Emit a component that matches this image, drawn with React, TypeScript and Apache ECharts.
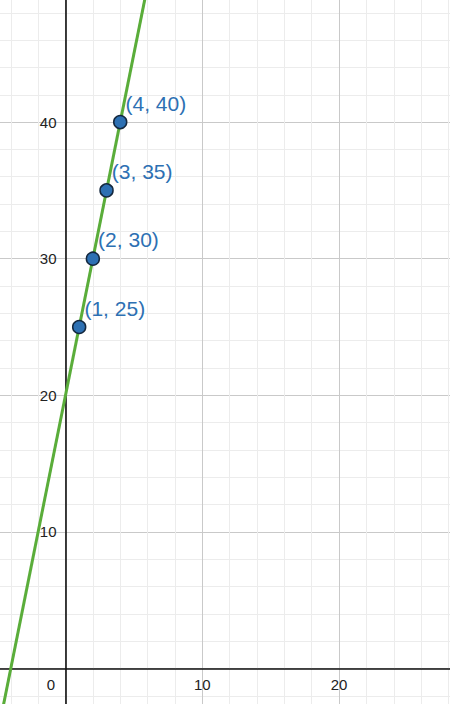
import { useEffect, useRef } from "react";
import * as echarts from "echarts";

// points marked on the graph
const pointX = [1, 2, 3, 4];
const pointY = [25, 30, 35, 40];

// two far ends of the line y = 5x + 20
const lineX = [-6, 8];
const lineY = [-10, 60];

// visible tick labels
const xTickLabels = [0, 10, 20];
const yTickLabels = [10, 20, 30, 40];

const GREEN = "#5aad3a";
const BLUE = "#2d70b3";
const FONT = "'Liberation Sans', Arial, sans-serif";

export default function App() {
  const chartRef = useRef<HTMLDivElement>(null);

  useEffect(() => {
    if (!chartRef.current) return;
    const chart = echarts.init(chartRef.current, null, { renderer: "svg" });

    const gridLines = {
      splitLine: { show: true, lineStyle: { color: "#c9c9c9", width: 1 } },
      minorTick: { show: false, splitNumber: 5 },
      minorSplitLine: { show: true, lineStyle: { color: "#ececec", width: 1 } },
    };

    const option: any = {
      animation: false,
      backgroundColor: "#ffffff",
      grid: [
        // full plane: grid lines, axis lines, marks (extends past the page)
        {
          left: -71.3,
          right: -25.9,
          top: -14.5,
          bottom: -101.1,
          containLabel: false,
          outerBoundsMode: "none",
        },
        // first quadrant only: carries the tick labels along the axes
        {
          left: 65.5,
          right: -25.9,
          top: -14.5,
          bottom: 35.5,
          containLabel: false,
          outerBoundsMode: "none",
        },
      ],
      xAxis: [
        {
          type: "value",
          gridIndex: 0,
          min: -10,
          max: 30,
          interval: 10,
          axisLine: { onZero: true, lineStyle: { color: "#111", width: 1.6 } },
          axisTick: { show: false },
          axisLabel: { show: false },
          ...gridLines,
        },
        {
          type: "value",
          gridIndex: 1,
          min: 0,
          max: 30,
          interval: 10,
          axisLine: { show: false },
          axisTick: { show: false },
          splitLine: { show: false },
          axisLabel: {
            margin: 8,
            color: "#222",
            fontSize: 15,
            fontFamily: FONT,
            formatter: (v: number) => {
              if (!xTickLabels.includes(v)) return "";
              return v === 0 ? "{z|0}" : String(v);
            },
            rich: {
              z: { padding: [0, 29, 0, 0], fontSize: 15, color: "#222", fontFamily: FONT },
            },
          },
        },
      ],
      yAxis: [
        {
          type: "value",
          gridIndex: 0,
          min: -10,
          max: 50,
          interval: 10,
          axisLine: { onZero: true, lineStyle: { color: "#111", width: 1.6 } },
          axisTick: { show: false },
          axisLabel: { show: false },
          ...gridLines,
        },
        {
          type: "value",
          gridIndex: 1,
          min: 0,
          max: 50,
          interval: 10,
          axisLine: { show: false },
          axisTick: { show: false },
          splitLine: { show: false },
          axisLabel: {
            margin: 9,
            color: "#222",
            fontSize: 15,
            fontFamily: FONT,
            formatter: (v: number) => (yTickLabels.includes(v) ? String(v) : ""),
          },
        },
      ],
      series: [
        {
          type: "line",
          xAxisIndex: 0,
          yAxisIndex: 0,
          data: lineX.map((x, i) => [x, lineY[i]]),
          showSymbol: false,
          silent: true,
          z: 3,
          lineStyle: { color: GREEN, width: 3 },
        },
        {
          type: "scatter",
          xAxisIndex: 0,
          yAxisIndex: 0,
          data: pointX.map((x, i) => [x, pointY[i]]),
          symbol: "circle",
          symbolSize: 13,
          z: 4,
          itemStyle: { color: BLUE, opacity: 1, borderColor: "#14283f", borderWidth: 1.5 },
          label: {
            show: true,
            position: "right",
            distance: 0,
            offset: [-2, -19],
            color: BLUE,
            fontSize: 21,
            fontFamily: FONT,
            formatter: (p: any) => `(${p.value[0]}, ${p.value[1]})`,
          },
        },
      ],
    };

    chart.setOption(option);
    return () => chart.dispose();
  }, []);

  return (
    <div
      ref={chartRef}
      style={{
        position: "fixed",
        left: 0,
        top: 0,
        width: 450,
        height: 704,
        overflow: "hidden",
      }}
    />
  );
}
